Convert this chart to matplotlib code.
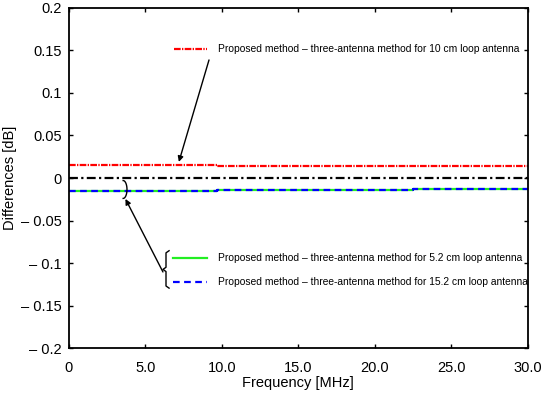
import numpy as np
import matplotlib
matplotlib.use('Agg')
import matplotlib.pyplot as plt

plt.rcParams['font.family'] = ['Liberation Sans', 'DejaVu Sans']

# Frequency breakpoints [MHz] and differences [dB] (step-wise curves)
freq = [0.0, 9.7, 9.7, 22.5, 22.5, 30.0]
diff_10cm = [0.015, 0.015, 0.0143, 0.0143, 0.0143, 0.0143]
diff_5cm = [-0.0150, -0.0150, -0.0140, -0.0140, -0.0133, -0.0133]
diff_15cm = [-0.0150, -0.0150, -0.0140, -0.0140, -0.0133, -0.0133]
zero_ref = [0.0, 0.0, 0.0, 0.0, 0.0, 0.0]

labels = ['Proposed method \u2013 three-antenna method for 10 cm loop antenna',
          'Proposed method \u2013 three-antenna method for 5.2 cm loop antenna',
          'Proposed method \u2013 three-antenna method for 15.2 cm loop antenna']

xticks = [0, 5, 10, 15, 20, 25, 30]
xticklabels = ['0', '5.0', '10.0', '15.0', '20.0', '25.0', '30.0']
yticks = [0.2, 0.15, 0.1, 0.05, 0, -0.05, -0.1, -0.15, -0.2]
yticklabels = ['0.2', '0.15', '0.1', '0.05', '0',
               '\u2013 0.05', '\u2013 0.1', '\u2013 0.15', '\u2013 0.2']

fig = plt.figure(figsize=(5.42, 3.96), dpi=100)
ax = fig.add_axes([0.127, 0.121, 0.847, 0.859])

ax.plot(freq, diff_10cm, color='red', linestyle=(0, (3, 0.6, 0.6, 0.6)), lw=1.6)
ax.plot(freq, zero_ref, color='black', linestyle=(0, (4, 1.5, 1, 1.5)), lw=1.6)
ax.plot(freq, diff_5cm, color='#22ee22', linestyle='-', lw=1.6)
ax.plot(freq, diff_15cm, color='blue', linestyle=(0, (3, 2)), lw=1.6)

ax.set_xlim(0, 30)
ax.set_ylim(-0.2, 0.2)
ax.set_xticks(xticks)
ax.set_xticklabels(xticklabels)
ax.set_yticks(yticks)
ax.set_yticklabels(yticklabels)
ax.tick_params(direction='in', length=3, width=1, top=True, right=True,
               labelsize=10.5)
ax.tick_params(axis='x', pad=9)
ax.tick_params(axis='y', pad=5)
for s in ax.spines.values():
    s.set_linewidth(1.3)

ax.set_xlabel('Frequency [MHz]', fontsize=10.5, labelpad=1)
ax.set_ylabel('Differences [dB]', fontsize=10.5, labelpad=3)

# In-plot legend entries
ax.plot([6.86, 9.02], [0.1518, 0.1518], color='red', linestyle=(0, (3, 0.6, 0.6, 0.6)), lw=1.6)
ax.text(9.74, 0.1518, labels[0], fontsize=7.4, va='center')
ax.plot([6.8, 9.02], [-0.094, -0.094], color='#22ee22', lw=1.6)
ax.text(9.74, -0.094, labels[1], fontsize=7.4, va='center')
ax.plot([6.8, 9.02], [-0.122, -0.122], color='blue', linestyle=(0, (3, 2)), lw=1.6)
ax.text(9.74, -0.122, labels[2], fontsize=7.4, va='center')

# brace grouping the two legend entries
bx = [6.55, 6.35, 6.35, 6.15, 6.35, 6.35, 6.55]
by = [-0.0855, -0.088, -0.105, -0.1075, -0.110, -0.127, -0.1295]
ax.plot(bx, by, color='black', lw=1.0)

# small bracket around green/blue curves
t = np.linspace(-np.pi / 2, np.pi / 2, 30)
ax.plot(3.55 + 0.25 * np.cos(t), -0.0135 + 0.0105 * np.sin(t), color='black', lw=1.0)

# arrows
ax.annotate('', xy=(7.19, 0.0189), xytext=(9.16, 0.1388),
            arrowprops=dict(arrowstyle='-|>', color='black', lw=1.0,
                            mutation_scale=8, shrinkA=0, shrinkB=0))
ax.annotate('', xy=(3.7, -0.0246), xytext=(6.15, -0.1105),
            arrowprops=dict(arrowstyle='-|>', color='black', lw=1.0,
                            mutation_scale=8, shrinkA=0, shrinkB=0))

fig.savefig('out.png', dpi=100)
